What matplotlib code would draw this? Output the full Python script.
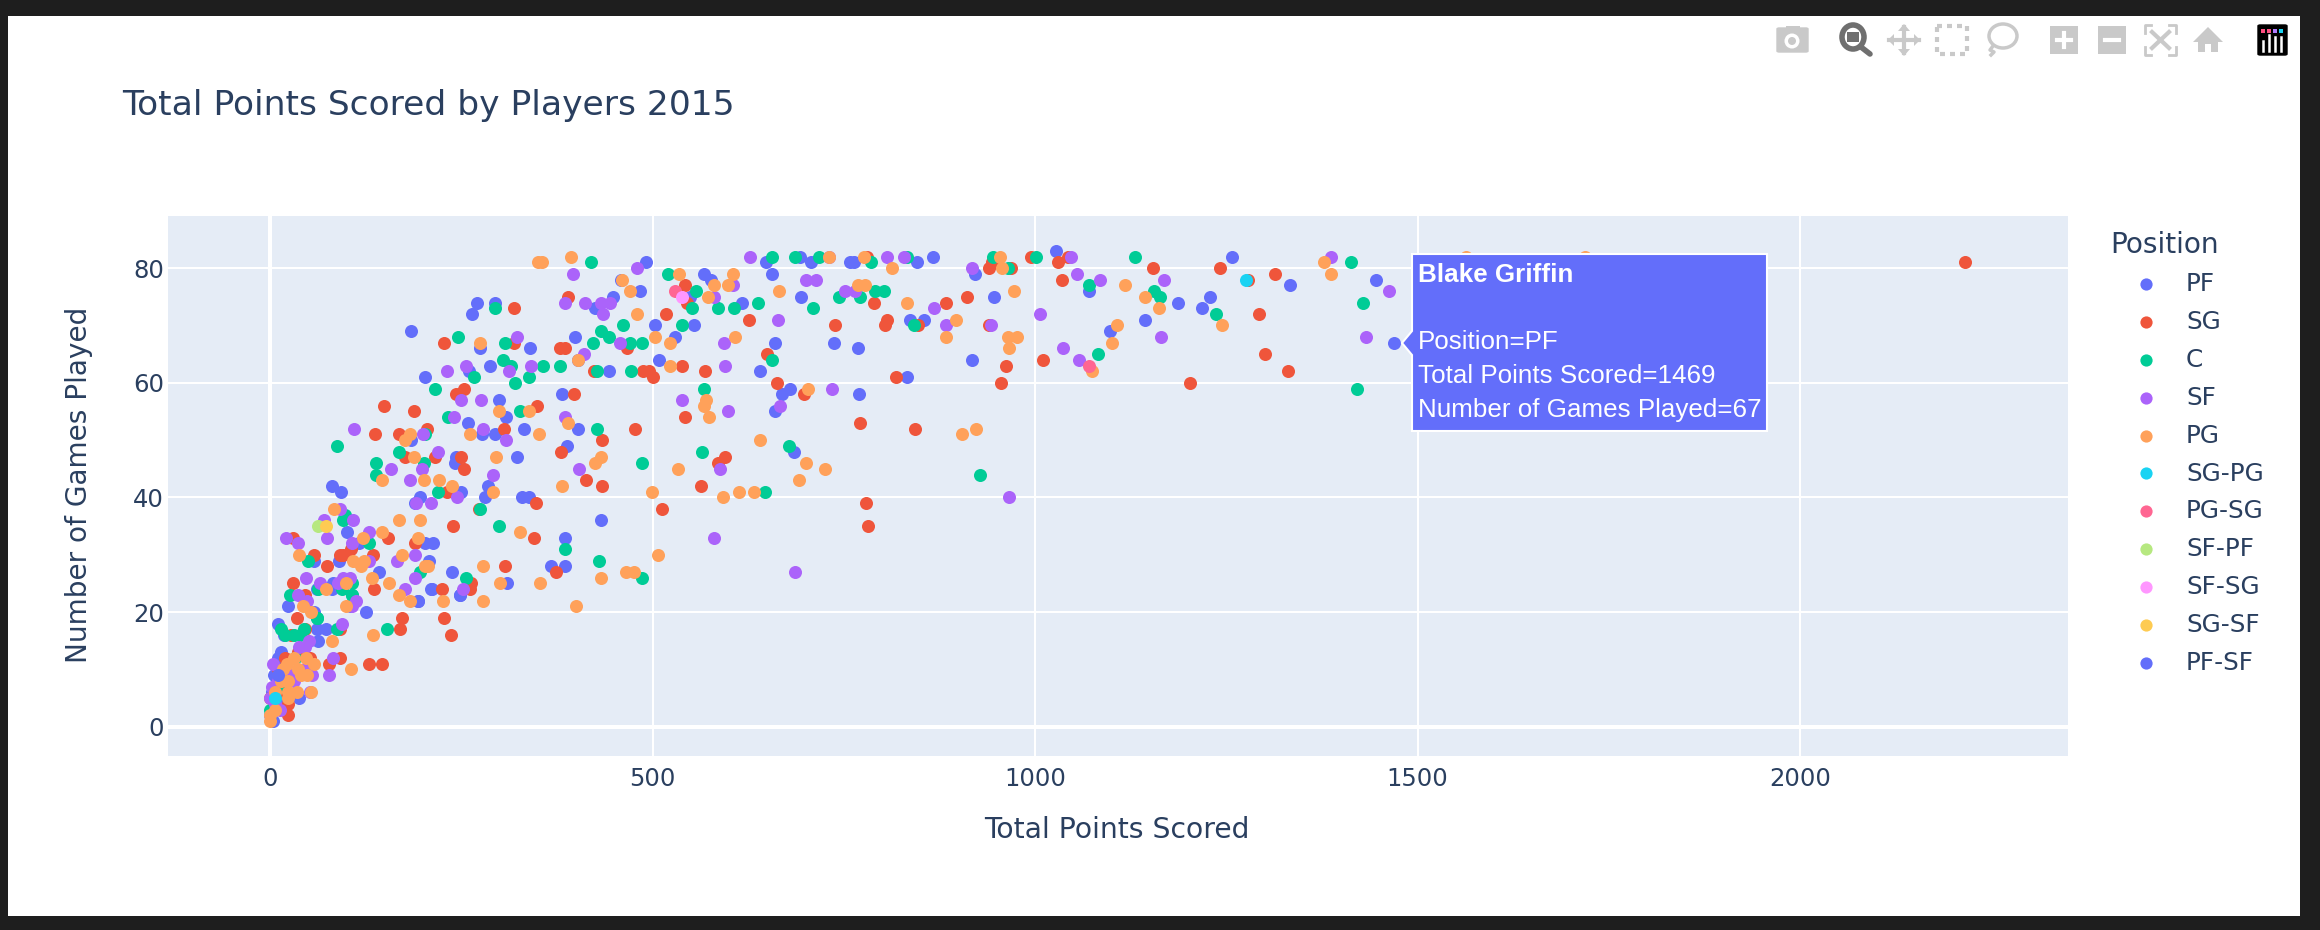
import matplotlib
matplotlib.use("Agg")
import matplotlib.pyplot as plt
from matplotlib.lines import Line2D
from matplotlib.patches import Rectangle, Polygon, Circle, Ellipse, FancyBboxPatch

plt.rcParams['font.family'] = ['DejaVu Sans']

TITLE = "Total Points Scored by Players 2015"
X_LABEL = "Total Points Scored"
Y_LABEL = "Number of Games Played"
LEGEND_TITLE = "Position"
x_ticks = [0, 500, 1000, 1500, 2000]
y_ticks = [0, 20, 40, 60, 80]
tooltip_lines = ["Position=PF", "Total Points Scored=1469", "Number of Games Played=67"]
tooltip_name = "Blake Griffin"
tooltip_point = (1469, 67)

pf_points = [(184,69),(271,74),(294,74),(264,72),(274,66),(340,66),(287,63),(260,62),(203,61),(299,57),(308,54),(259,53),
(277,51),(294,51),(332,52),(184,50),(243,47),(242,46),(323,47),(285,42),(249,41),(81,42),(93,41),(196,40),(281,40),(330,40),
(339,40),(100,34),(203,32),(213,32),(116,32),(208,29),(90,29),(57,29),(143,27),(238,27),(310,25),(83,25),(212,24),(81,24),(61,24),
(248,23),(193,22),(367,28),(386,28),(386,33),(432,36),(388,49),(402,52),(382,58),(443,62),(399,68),(402,64),(425,73),(448,75),
(483,76),(491,81),(567,79),(577,78),(503,70),(554,70),(529,68),(509,64),(660,67),(640,62),(737,67),(648,81),(656,79),(617,74),
(694,75),(693,82),(707,81),(758,81),(680,59),(669,58),(660,55),(685,48),(549,75),(459,78),(763,81),(845,81),(866,82),(921,79),
(769,66),(836,71),(855,71),(917,64),(833,61),(770,58),(946,75),(1071,76),(1027,83),(1098,69),(1143,71),(1187,74),(1218,73),(1228,75),
(1258,82),(1333,77),(1446,78),(1469,67),(24,21),(57,20),(126,20),(194,22),(105,21),(248,23),(10,18),(61,17),(73,17),(63,15),(18,16),
(15,13),(11,12),(38,5),(4,1),(0,2),(2,6),(5,9),(8,7),(12,5),(190,39),(211,24)]

sg_points = [(390,75),(319,73),(228,67),(319,67),(379,66),(385,66),(467,66),(423,62),(487,62),(495,62),(501,61),(539,63),(568,62),
(650,65),(542,77),(545,74),(518,72),(626,71),(738,70),(663,60),(698,58),(254,59),(243,58),(149,56),(188,55),(349,56),(397,58),
(543,54),(477,52),(306,52),(205,52),(137,51),(168,51),(434,50),(380,48),(249,47),(216,47),(176,47),(254,45),(595,47),(585,46),
(413,43),(434,42),(563,42),(231,41),(348,39),(273,38),(512,38),(239,35),(30,33),(154,33),(345,33),(190,32),(106,31),(58,30),(92,30),
(96,30),(134,30),(74,28),(307,28),(374,27),(263,25),(30,25),(136,24),(225,24),(261,24),(46,23),(780,82),(790,74),(804,70),(807,71),
(847,70),(884,74),(911,75),(940,80),(944,81),(969,80),(940,70),(962,63),(956,60),(818,61),(771,53),(843,52),(779,39),(782,35),
(995,82),(1043,82),(1030,81),(1035,78),(1010,64),(1154,80),(1242,80),(1278,78),(1313,79),(1292,72),(1301,65),(1331,62),(1203,60),
(2216,81),(35,19),(172,19),(170,17),(227,19),(236,16),(91,12),(77,11),(130,11),(147,11),(19,12),(52,12),(23,2),(23,4),(11,10),(0,5),
(37,13),(92,17),(46,17),(28,16),(10,7),(15,6),(18,3)]

c_points = [(420,81),(520,79),(656,82),(686,82),(717,82),(557,76),(744,75),(552,73),(586,73),(606,73),(638,74),(710,73),(294,73),
(538,70),(462,70),(432,69),(443,68),(246,68),(307,67),(422,67),(470,67),(486,67),(304,64),(315,63),(357,63),(379,63),(266,61),
(339,61),(320,60),(216,59),(427,62),(472,62),(656,64),(567,59),(327,55),(233,54),(202,51),(428,52),(87,49),(169,48),(564,48),
(678,49),(138,46),(201,46),(486,46),(139,44),(219,41),(647,41),(274,38),(98,37),(96,36),(299,35),(129,32),(386,31),(50,29),(430,29),
(196,27),(256,26),(486,26),(26,23),(63,24),(94,24),(107,25),(107,23),(61,19),(785,81),(833,82),(771,75),(791,76),(802,76),(842,70),
(945,82),(964,80),(1001,82),(1070,77),(1130,82),(1156,76),(1163,75),(1082,65),(1236,72),(1413,81),(1428,74),(1421,59),(928,44),
(14,17),(20,16),(32,16),(39,16),(45,17),(62,19),(153,17),(88,17),(0,3),(17,7),(33,12),(107,23)]

sf_points = [(396,79),(480,80),(628,82),(730,82),(700,78),(713,78),(752,76),(605,77),(580,75),(386,74),(412,74),(432,74),(445,74),
(435,72),(664,71),(323,68),(457,67),(593,67),(411,65),(256,63),(341,63),(232,62),(312,62),(595,63),(734,59),(250,57),(276,57),
(539,57),(666,56),(598,55),(241,54),(385,54),(278,52),(110,52),(200,51),(309,50),(219,48),(158,45),(199,45),(404,45),(588,45),
(183,43),(292,44),(245,40),(191,39),(210,39),(91,38),(70,36),(109,36),(129,34),(21,33),(74,33),(36,32),(107,32),(580,33),(166,29),
(189,30),(129,29),(686,27),(47,26),(96,26),(104,26),(190,26),(65,25),(89,25),(176,24),(252,24),(37,23),(49,22),(113,22),(107,21),
(764,76),(807,82),(828,82),(868,73),(883,70),(917,80),(943,70),(966,40),(1047,82),(1055,79),(1085,78),(1007,72),(1037,66),(1057,64),
(1164,68),(1168,78),(1387,82),(1432,68),(1463,76),(94,18),(51,15),(38,14),(46,14),(82,12),(4,11),(55,9),(77,9),(46,10),(31,8),(11,8),
(2,7),(0,5),(13,3),(52,6),(6,4),(27,9)]

pg_points = [(350,81),(356,81),(393,82),(535,79),(605,79),(460,78),(580,77),(598,77),(470,76),(665,76),(573,75),(480,72),(503,68),
(608,68),(274,67),(523,67),(402,64),(523,63),(703,59),(570,57),(567,56),(299,55),(338,55),(574,54),(390,53),(183,51),(177,50),
(261,51),(351,51),(641,50),(188,47),(295,47),(432,47),(425,46),(701,46),(533,45),(725,45),(146,43),(201,43),(221,43),(692,43),
(238,42),(382,42),(291,41),(499,41),(613,41),(632,41),(592,40),(84,38),(168,36),(196,36),(146,34),(327,34),(122,33),(193,33),(38,30),
(172,30),(507,30),(108,29),(123,29),(119,28),(203,28),(207,28),(278,28),(465,27),(476,27),(133,26),(432,26),(155,25),(301,25),(353,25),
(99,25),(73,24),(168,23),(183,22),(226,22),(278,22),(43,21),(99,21),(54,20),(400,21),(731,82),(777,82),(813,80),(768,77),(778,77),
(832,74),(973,76),(954,82),(957,80),(896,71),(884,68),(964,68),(976,68),(966,66),(923,52),(904,51),(1075,62),(1101,67),(1107,70),
(1117,77),(1143,75),(1162,73),(1244,70),(1377,81),(1387,79),(1563,82),(1719,82),(81,15),(106,10),(134,16),(31,12),(47,12),(58,11),
(22,11),(17,10),(37,10),(41,9),(48,9),(15,8),(23,8),(7,6),(23,6),(35,6),(53,6),(23,5),(7,3),(0,2),(0,1)]

sg_pg_points = [(1275,78),(7,5)]
pg_sg_points = [(530,76),(1070,63)]
sf_pf_points = [(63,35)]
sf_sg_points = [(538,75)]
sg_sf_points = [(73,35)]
pf_sf_points = [(10,9)]

series = [("PF", pf_points, "#636efa"), ("SG", sg_points, "#ef553b"), ("C", c_points, "#00cc96"),
          ("SF", sf_points, "#ab63fa"), ("PG", pg_points, "#ffa15a"), ("SG-PG", sg_pg_points, "#19d3f3"),
          ("PG-SG", pg_sg_points, "#ff6692"), ("SF-PF", sf_pf_points, "#b6e880"), ("SF-SG", sf_sg_points, "#ff97ff"),
          ("SG-SF", sg_sf_points, "#fecb52"), ("PF-SF", pf_sf_points, "#636efa")]

W, H = 2320, 930
INK = "#2a3f5f"
fig = plt.figure(figsize=(W/100, H/100), dpi=100, facecolor="#1e1e1e")
fx = lambda p: p/W
fy = lambda p: 1 - p/H
tf = fig.transFigure

def rect(x0, y0, x1, y1, **kw):
    kw.setdefault('lw', 0)
    fig.add_artist(Rectangle((fx(x0), fy(y1)), fx(x1-x0), (y1-y0)/H, transform=tf, **kw))

def line(xs, ys, **kw):
    fig.add_artist(Line2D([fx(a) for a in xs], [fy(b) for b in ys], transform=tf, **kw))

def poly(pts, **kw):
    kw.setdefault('lw', 0)
    fig.add_artist(Polygon([(fx(a), fy(b)) for a, b in pts], closed=True, transform=tf, **kw))

rect(8, 16, 2300, 916, fc="white", zorder=-5)

ax = fig.add_axes([fx(168), fy(756), fx(2068-168), (756-216)/H], facecolor="#e5ecf6")
ax.set_xlim(-133.3, 2350)
ax.set_ylim(-5.1, 89.1)
for s in ax.spines.values():
    s.set_visible(False)
ax.set_axisbelow(True)
ax.grid(True, color="white", lw=1.44)
ax.axhline(0, color="white", lw=2.9, zorder=0.9)
ax.axvline(0, color="white", lw=2.9, zorder=0.9)
ax.set_xticks(x_ticks)
ax.set_yticks(y_ticks)
ax.tick_params(length=0, labelsize=17.5, labelcolor=INK)
ax.tick_params(axis='x', pad=8)
ax.tick_params(axis='y', pad=3)

for name, pts, col in series:
    ax.scatter([p[0] for p in pts], [p[1] for p in pts], s=88, color=col, linewidths=0, label=name, clip_on=True)

fig.text(fx(122), fy(115), TITLE, fontsize=24.8, color=INK, va='baseline', ha='left')
fig.text(fx(1117), fy(830), X_LABEL, fontsize=20.3, color=INK, va='center', ha='center')
fig.text(fx(79), fy(485), Y_LABEL, fontsize=20.2, color=INK, va='center', ha='center', rotation=90)

# legend
fig.text(fx(2110), fy(245), LEGEND_TITLE, fontsize=20.2, color=INK, va='center', ha='left')
for i, (name, pts, col) in enumerate(series):
    yy = 284 + i*37.9
    line([2146], [yy], marker='o', ms=8.8, mew=0, color=col, ls='none')
    fig.text(fx(2186), fy(yy), name, fontsize=17.8, color=INK, va='center', ha='left')

# hover label
HOV = "#636efa"
poly([(1412, 254), (1767, 254), (1767, 431), (1412, 431), (1412, 355), (1402, 343), (1412, 331)],
     fc=HOV, ec="white", lw=1.5, zorder=5)
fig.text(fx(1418), fy(275), tooltip_name, fontsize=18.7, color="white", family="Liberation Sans", fontweight="bold",
         va='center', ha='left', zorder=6)
for t, yy in zip(tooltip_lines, [342, 376, 410]):
    fig.text(fx(1418), fy(yy), t, fontsize=18.7, color="white", family="Liberation Sans", va='center', ha='left', zorder=6)

# modebar
G = "#c9c9c9"
# camera
fig.add_artist(FancyBboxPatch((fx(1777), fy(52)), fx(31), 24/H, boxstyle="round,pad=0,rounding_size=0.001",
                              transform=tf, fc=G, ec=G, lw=1))
rect(1786, 26, 1800, 30, fc=G)
fig.add_artist(Ellipse((fx(1792), fy(41)), fx(15), 15/H, transform=tf, fc="white", ec="none"))
fig.add_artist(Ellipse((fx(1792), fy(41)), fx(8), 8/H, transform=tf, fc=G, ec="none"))
# zoom
D = "#6f6f6f"
fig.add_artist(Ellipse((fx(1853), fy(37)), fx(22), 24/H, transform=tf, fc="white", ec=D, lw=4))
rect(1847, 32, 1859, 42, fc=D)
line([1861, 1870], [47, 54], color=D, lw=4, solid_capstyle='round')
# pan
line([1889, 1919], [40, 40], color=G, lw=3)
line([1904, 1904], [27, 53], color=G, lw=3)
for a, b, c in [(1904, 24, 1), (1904, 56, -1)]:
    poly([(a, b), (a-6, b+7*c), (a+6, b+7*c)], fc=G)
for a, c in [(1888, 1), (1920, -1)]:
    poly([(a, 40), (a+6*c, 34), (a+6*c, 46)], fc=G)
# box select
line([1937, 1967, 1967, 1937, 1937], [26, 26, 54, 54, 26], color=G, lw=3, ls=(0, (1.2, 1.2)))
# lasso
fig.add_artist(Ellipse((fx(2003), fy(36)), fx(28), 24/H, transform=tf, fc="none", ec=G, lw=2.5))
line([1993, 1990, 1994, 1991], [46, 50, 52, 55], color=G, lw=2.5)
# plus / minus
rect(2050, 26, 2078, 54, fc=G)
line([2057, 2071], [40, 40], color="white", lw=3)
line([2064, 2064], [33, 47], color="white", lw=3)
rect(2098, 26, 2126, 54, fc=G)
line([2105, 2119], [40, 40], color="white", lw=3)
# autoscale
for xa, xb, ya, yb in [(2151, 2145, 25, 33), (2169, 2176, 25, 33), (2151, 2145, 55, 47), (2169, 2176, 55, 47)]:
    line([xa, xb, xb], [ya, ya, yb], color=G, lw=2)
line([2152, 2169], [32, 48], color=G, lw=3)
line([2169, 2152], [32, 48], color=G, lw=3)
# home
poly([(2208, 27), (2193, 42), (2198, 42), (2198, 52), (2205, 52), (2205, 44), (2211, 44), (2211, 52), (2218, 52), (2218, 42), (2223, 42)], fc=G)
# plotly logo
fig.add_artist(FancyBboxPatch((fx(2258), fy(55)), fx(29), 30/H, boxstyle="round,pad=0,rounding_size=0.001",
                              transform=tf, fc="black", ec="black", lw=1))
for xb, top, c in [(2263, 41, "white"), (2269, 35, "white"), (2275, 37, "white"), (2281, 37, "white")]:
    line([xb, xb], [top, 51], color=c, lw=1.8)
for xb, c in [(2263, "#ff4f81"), (2269, "#ff4f81"), (2275, "#b07cff"), (2281, "#19d3f3")]:
    line([xb], [31], marker='s', ms=2.2, mew=0, color=c, ls='none')

fig.savefig("out.png", dpi=100, facecolor=fig.get_facecolor())
